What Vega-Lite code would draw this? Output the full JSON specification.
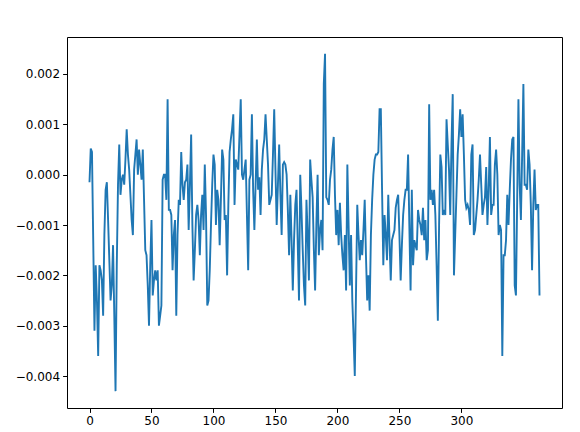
{
  "$schema": "https://vega.github.io/schema/vega-lite/v6.json",
  "width": 495,
  "height": 371,
  "autosize": {"type": "none"},
  "padding": {"left": 67, "top": 37, "right": 18, "bottom": 24},
  "background": "white",
  "data": {
    "values": [
      {"i":0,"v":-0.00015},{"i":1,"v":0.00052},{"i":2,"v":0.00045},{"i":3,"v":-0.0013},{"i":4,"v":-0.0031},
      {"i":5,"v":-0.0018},{"i":6,"v":-0.0025},{"i":7,"v":-0.0036},{"i":8,"v":-0.0018},{"i":9,"v":-0.0019},
      {"i":10,"v":-0.0021},{"i":11,"v":-0.0028},{"i":12,"v":-0.0012},{"i":13,"v":-0.0003},{"i":14,"v":-0.00015},
      {"i":15,"v":-0.0009},{"i":16,"v":-0.0017},{"i":17,"v":-0.0025},{"i":18,"v":-0.0022},{"i":19,"v":-0.0014},
      {"i":20,"v":-0.0028},{"i":21,"v":-0.0043},{"i":22,"v":-0.0018},{"i":23,"v":-0.0002},{"i":24,"v":0.0006},
      {"i":25,"v":-0.0004},{"i":26,"v":-0.0001},{"i":27,"v":0.0},{"i":28,"v":-0.0002},{"i":29,"v":0.0003},
      {"i":30,"v":0.0009},{"i":31,"v":0.0004},{"i":32,"v":0.0001},{"i":33,"v":-0.0004},{"i":34,"v":-0.0009},
      {"i":35,"v":-0.0012},{"i":36,"v":0.0001},{"i":37,"v":0.0004},{"i":38,"v":0.0007},{"i":39,"v":0.0},
      {"i":40,"v":0.0005},{"i":41,"v":0.0002},{"i":42,"v":-0.0001},{"i":43,"v":0.0005},{"i":44,"v":-0.0005},
      {"i":45,"v":-0.0015},{"i":46,"v":-0.0016},{"i":47,"v":-0.0022},{"i":48,"v":-0.003},{"i":49,"v":-0.0018},
      {"i":50,"v":-0.0009},{"i":51,"v":-0.0024},{"i":52,"v":-0.0021},{"i":53,"v":-0.0019},{"i":54,"v":-0.0021},
      {"i":55,"v":-0.0019},{"i":56,"v":-0.003},{"i":57,"v":-0.0028},{"i":58,"v":-0.0026},{"i":59,"v":-0.0001},
      {"i":60,"v":0.0},{"i":61,"v":0.0},{"i":62,"v":-0.0005},{"i":63,"v":0.0015},{"i":64,"v":-0.0007},
      {"i":65,"v":-0.0007},{"i":66,"v":-0.0008},{"i":67,"v":-0.0019},{"i":68,"v":-0.0012},{"i":69,"v":-0.0009},
      {"i":70,"v":-0.0028},{"i":71,"v":-0.0012},{"i":72,"v":-0.0005},{"i":73,"v":-0.0006},{"i":74,"v":0.00045},
      {"i":75,"v":-0.0002},{"i":76,"v":-0.0005},{"i":77,"v":-0.00015},{"i":78,"v":-0.0001},{"i":79,"v":0.0002},
      {"i":80,"v":-0.0011},{"i":81,"v":-0.0002},{"i":82,"v":0.0008},{"i":83,"v":-0.001},{"i":84,"v":-0.0021},
      {"i":85,"v":-0.0015},{"i":86,"v":-0.0008},{"i":87,"v":-0.0006},{"i":88,"v":-0.0009},{"i":89,"v":-0.0016},
      {"i":90,"v":-0.0008},{"i":91,"v":-0.0004},{"i":92,"v":-0.0011},{"i":93,"v":0.0002},{"i":94,"v":-0.0008},
      {"i":95,"v":-0.0026},{"i":96,"v":-0.0025},{"i":97,"v":-0.0019},{"i":98,"v":-0.001},{"i":99,"v":-0.0002},
      {"i":100,"v":0.0004},{"i":101,"v":0.0002},{"i":102,"v":-0.001},{"i":103,"v":-0.0003},{"i":104,"v":-0.0005},
      {"i":105,"v":-0.0014},{"i":106,"v":-0.0005},{"i":107,"v":0.0005},{"i":108,"v":0.0003},{"i":109,"v":-0.0009},
      {"i":110,"v":-0.0008},{"i":111,"v":-0.002},{"i":112,"v":-0.0006},{"i":113,"v":0.00045},{"i":114,"v":0.0007},
      {"i":115,"v":0.0009},{"i":116,"v":0.0012},{"i":117,"v":-0.0006},{"i":118,"v":0.0003},{"i":119,"v":0.0002},
      {"i":120,"v":0.0001},{"i":121,"v":0.0008},{"i":122,"v":0.0015},{"i":123,"v":0.0},{"i":124,"v":-0.0001},
      {"i":125,"v":0.0001},{"i":126,"v":0.0003},{"i":127,"v":-0.0008},{"i":128,"v":-0.0019},{"i":129,"v":-0.0001},
      {"i":130,"v":0.0},{"i":131,"v":0.0012},{"i":132,"v":-0.0003},{"i":133,"v":-0.0011},{"i":134,"v":-0.0002},
      {"i":135,"v":0.0007},{"i":136,"v":-0.0003},{"i":137,"v":-0.00005},{"i":138,"v":-0.0008},{"i":139,"v":0.0001},
      {"i":140,"v":0.0005},{"i":141,"v":0.0007},{"i":142,"v":0.0012},{"i":143,"v":0.0007},{"i":144,"v":0.0002},
      {"i":145,"v":-0.0006},{"i":146,"v":-0.0005},{"i":147,"v":-0.0004},{"i":148,"v":0.0004},{"i":149,"v":0.0013},
      {"i":150,"v":0.0001},{"i":151,"v":-0.001},{"i":152,"v":-0.0002},{"i":153,"v":0.0006},{"i":154,"v":-0.0004},
      {"i":155,"v":-0.0012},{"i":156,"v":0.0002},{"i":157,"v":0.00025},{"i":158,"v":0.0002},{"i":159,"v":0.0},
      {"i":160,"v":-0.0007},{"i":161,"v":-0.0016},{"i":162,"v":-0.0004},{"i":163,"v":-0.0013},{"i":164,"v":-0.0023},
      {"i":165,"v":-0.0013},{"i":166,"v":-0.0006},{"i":167,"v":-0.0003},{"i":168,"v":-0.0014},{"i":169,"v":-0.0025},
      {"i":170,"v":0.0},{"i":171,"v":-0.0007},{"i":172,"v":-0.0015},{"i":173,"v":-0.0022},{"i":174,"v":-0.0026},
      {"i":175,"v":-0.0005},{"i":176,"v":-0.0012},{"i":177,"v":-0.0021},{"i":178,"v":0.0003},{"i":179,"v":-0.0001},
      {"i":180,"v":-0.00045},{"i":181,"v":-0.0015},{"i":182,"v":-0.0023},{"i":183,"v":-0.001},{"i":184,"v":0.0},
      {"i":185,"v":-0.0016},{"i":186,"v":-0.0011},{"i":187,"v":-0.0009},{"i":188,"v":-0.0015},{"i":189,"v":0.0018},
      {"i":190,"v":0.0024},{"i":191,"v":-0.00045},{"i":192,"v":-0.0005},{"i":193,"v":-0.0006},{"i":194,"v":-0.0001},
      {"i":195,"v":0.0001},{"i":196,"v":0.0005},{"i":197,"v":0.00075},{"i":198,"v":-0.0004},{"i":199,"v":-0.0012},
      {"i":200,"v":-0.0007},{"i":201,"v":-0.0014},{"i":202,"v":-0.00056},{"i":203,"v":-0.0012},{"i":204,"v":-0.0016},
      {"i":205,"v":-0.0019},{"i":206,"v":-0.0012},{"i":207,"v":-0.0023},{"i":208,"v":0.0002},{"i":209,"v":-0.001},
      {"i":210,"v":-0.0022},{"i":211,"v":-0.0012},{"i":212,"v":-0.0025},{"i":213,"v":-0.0032},{"i":214,"v":-0.004},
      {"i":215,"v":-0.0023},{"i":216,"v":-0.0006},{"i":217,"v":-0.0012},{"i":218,"v":-0.0017},{"i":219,"v":-0.0013},
      {"i":220,"v":-0.0016},{"i":221,"v":-0.0011},{"i":222,"v":-0.0005},{"i":223,"v":-0.0016},{"i":224,"v":-0.0025},
      {"i":225,"v":-0.002},{"i":226,"v":-0.0027},{"i":227,"v":-0.0012},{"i":228,"v":-0.0005},{"i":229,"v":0.0},
      {"i":230,"v":0.0003},{"i":231,"v":0.0004},{"i":232,"v":0.0004},{"i":233,"v":0.00045},{"i":234,"v":0.0013},
      {"i":235,"v":0.0013},{"i":236,"v":-0.0003},{"i":237,"v":-0.0018},{"i":238,"v":-0.0008},{"i":239,"v":-0.0012},
      {"i":240,"v":-0.0017},{"i":241,"v":-0.0004},{"i":242,"v":-0.0013},{"i":243,"v":-0.0021},{"i":244,"v":-0.0013},
      {"i":245,"v":-0.0012},{"i":246,"v":-0.0011},{"i":247,"v":-0.00066},{"i":248,"v":-0.0005},{"i":249,"v":-0.0004},
      {"i":250,"v":-0.0012},{"i":251,"v":-0.0021},{"i":252,"v":-0.0014},{"i":253,"v":-0.0008},{"i":254,"v":-0.0005},
      {"i":255,"v":-0.0003},{"i":256,"v":-0.0003},{"i":257,"v":0.0004},{"i":258,"v":-0.001},{"i":259,"v":-0.0023},
      {"i":260,"v":-0.0003},{"i":261,"v":-0.0018},{"i":262,"v":-0.0013},{"i":263,"v":-0.0014},{"i":264,"v":-0.0015},
      {"i":265,"v":-0.0007},{"i":266,"v":-0.0009},{"i":267,"v":-0.001},{"i":268,"v":-0.0012},{"i":269,"v":-0.00066},
      {"i":270,"v":-0.0013},{"i":271,"v":-0.0009},{"i":272,"v":-0.0017},{"i":273,"v":-0.0015},{"i":274,"v":0.0014},
      {"i":275,"v":-0.0005},{"i":276,"v":-0.0003},{"i":277,"v":-0.0006},{"i":278,"v":-0.0003},{"i":279,"v":-0.0008},
      {"i":280,"v":-0.0018},{"i":281,"v":-0.0029},{"i":282,"v":-0.001},{"i":283,"v":0.0004},{"i":284,"v":0.00015},
      {"i":285,"v":-0.0008},{"i":286,"v":-0.0007},{"i":287,"v":-0.0008},{"i":288,"v":0.0011},{"i":289,"v":0.0006},
      {"i":290,"v":0.0001},{"i":291,"v":-0.0008},{"i":292,"v":0.0006},{"i":293,"v":0.0016},{"i":294,"v":-0.002},
      {"i":295,"v":-0.0012},{"i":296,"v":-0.0004},{"i":297,"v":0.0004},{"i":298,"v":0.0008},{"i":299,"v":0.0013},
      {"i":300,"v":0.00075},{"i":301,"v":0.0012},{"i":302,"v":0.0004},{"i":303,"v":-0.0005},{"i":304,"v":-0.00066},
      {"i":305,"v":-0.0006},{"i":306,"v":-0.0007},{"i":307,"v":-0.001},{"i":308,"v":0.0004},{"i":309,"v":0.0006},
      {"i":310,"v":-0.0012},{"i":311,"v":-0.0011},{"i":312,"v":-0.0008},{"i":313,"v":-0.0005},{"i":314,"v":-0.0001},
      {"i":315,"v":0.0004},{"i":316,"v":-0.0002},{"i":317,"v":-0.0008},{"i":318,"v":-0.0006},{"i":319,"v":-0.00045},
      {"i":320,"v":0.00015},{"i":321,"v":-0.001},{"i":322,"v":-0.0003},{"i":323,"v":0.00075},{"i":324,"v":-0.0008},
      {"i":325,"v":-0.0006},{"i":326,"v":-0.0006},{"i":327,"v":0.0002},{"i":328,"v":0.0005},{"i":329,"v":0.0},
      {"i":330,"v":-0.0012},{"i":331,"v":-0.001},{"i":332,"v":-0.0011},{"i":333,"v":-0.0036},{"i":334,"v":-0.0016},
      {"i":335,"v":-0.0016},{"i":336,"v":-0.0013},{"i":337,"v":-0.0004},{"i":338,"v":-0.001},{"i":339,"v":-0.0003},
      {"i":340,"v":0.0003},{"i":341,"v":0.0007},{"i":342,"v":0.00075},{"i":343,"v":-0.0022},{"i":344,"v":-0.0024},
      {"i":345,"v":-0.0005},{"i":346,"v":0.0015},{"i":347,"v":-0.0002},{"i":348,"v":-0.0009},{"i":349,"v":0.0004},
      {"i":350,"v":0.0018},{"i":351,"v":-0.0002},{"i":352,"v":-0.0002},{"i":353,"v":-0.0003},{"i":354,"v":0.0005},
      {"i":355,"v":0.0002},{"i":356,"v":-0.0006},{"i":357,"v":-0.0019},{"i":358,"v":-0.0006},{"i":359,"v":0.0001},
      {"i":360,"v":-0.0007},{"i":361,"v":-0.0006},{"i":362,"v":-0.0006},{"i":363,"v":-0.0024}
    ]
  },
  "mark": {"type": "line", "color": "#1f77b4", "strokeWidth": 1.9},
  "encoding": {
    "x": {
      "field": "i",
      "type": "quantitative",
      "title": null,
      "scale": {"domain": [-18.15, 381.15], "nice": false, "zero": false},
      "axis": {"values": [0, 50, 100, 150, 200, 250, 300], "format": "d"}
    },
    "y": {
      "field": "v",
      "type": "quantitative",
      "title": null,
      "scale": {"domain": [-0.004635, 0.002735], "nice": false, "zero": false},
      "axis": {"values": [-0.004, -0.003, -0.002, -0.001, 0, 0.001, 0.002], "format": ".3f"}
    }
  },
  "config": {
    "view": {"stroke": "black", "strokeWidth": 1},
    "axis": {
      "grid": false,
      "domain": false,
      "ticks": true,
      "tickColor": "black",
      "tickSize": 4.4,
      "tickWidth": 1,
      "labelColor": "black",
      "labelFont": "DejaVu Sans",
      "labelFontSize": 12,
      "labelPadding": 3,
      "labelFlush": false,
      "labelOverlap": false
    }
  }
}
